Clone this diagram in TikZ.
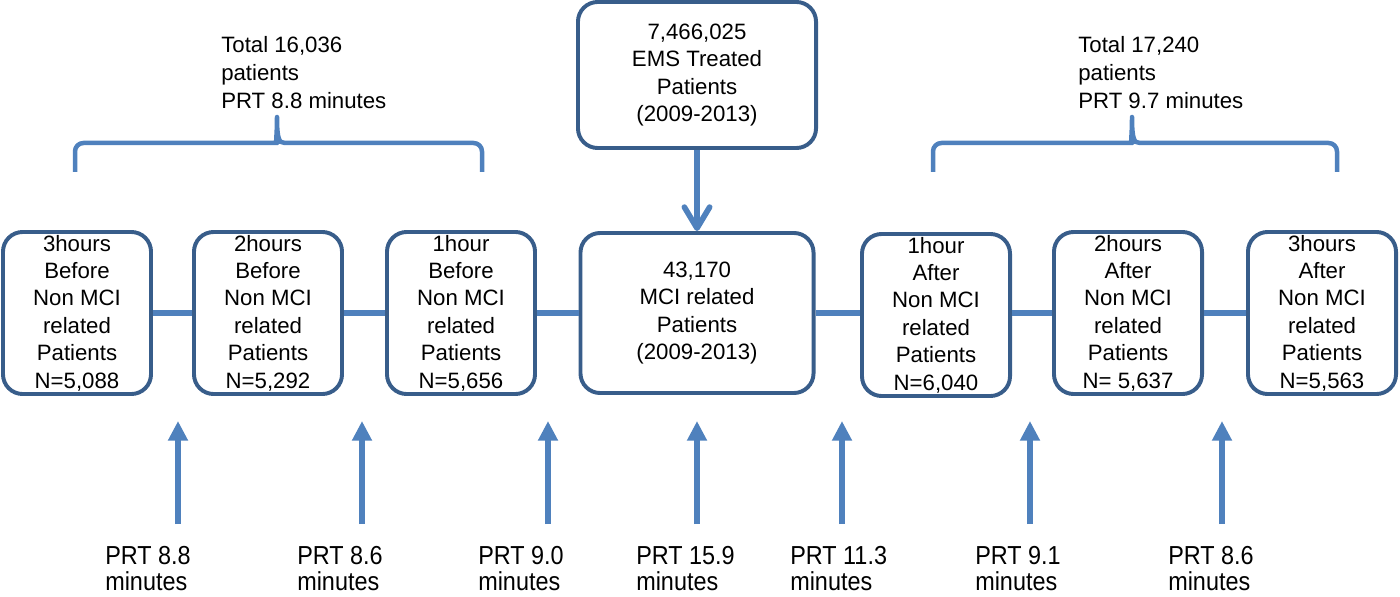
\documentclass[tikz,border=0pt]{standalone}
\usepackage{fontspec}
\setmainfont{Liberation Sans}
\newfontfamily\narrowfont[FakeStretch=0.9]{Liberation Sans}
\usetikzlibrary{arrows.meta}
\definecolor{boxblue}{RGB}{56,93,138}
\definecolor{lineblue}{RGB}{79,129,189}
\begin{document}
\begin{tikzpicture}[x=0.025cm,y=-0.025cm,
	box/.style={draw=boxblue, line width=2.8pt, rounded corners=14pt, fill=white, align=center, inner sep=0pt, minimum width=3.7cm, minimum height=4.05cm, font=\fontsize{15.8}{19.5}\selectfont},
	link/.style={draw=lineblue, line width=4pt},
	down/.style={draw=lineblue, line width=4pt, -{Straight Barb[round, length=15pt, width=18pt]}},
	up/.style={draw=lineblue, line width=3.6pt, -{Triangle[length=14pt, width=13.5pt]}},
	prt/.style={anchor=north west, align=left, inner sep=0pt, font=\narrowfont\fontsize{18.5}{18.5}\selectfont},
	total/.style={anchor=north west, align=left, inner sep=0pt, font=\fontsize{15.8}{19.9}\selectfont},
	brace/.style={draw=lineblue, line width=3.2pt, line join=round}]
	\useasboundingbox (0,0) rectangle (1400,597);
	% boxes
	\node (ems) at ( 697,  75)	[box, minimum width=5.95cm, minimum height=3.65cm]	{7,466,025\\EMS Treated\\Patients\\(2009-2013)};
	\node (b3)  at (  77, 313)	[box]	{3hours\\Before\\Non MCI\\related\\Patients\\N=5,088};
	\node (b2)  at ( 268, 313)	[box]	{2hours\\Before\\Non MCI\\related\\Patients\\N=5,292};
	\node (b1)  at ( 461, 313)	[box]	{1hour\\Before\\Non MCI\\related\\Patients\\N=5,656};
	\node (mci) at ( 697, 313)	[box, minimum width=5.825cm, minimum height=4cm]	{43,170\\MCI related\\Patients\\(2009-2013)};
	\node (a1)  at ( 936, 315)	[box]	{1hour\\After\\Non MCI\\related\\Patients\\N=6,040};
	\node (a2)  at (1128, 313)	[box]	{2hours\\After\\Non MCI\\related\\Patients\\N= 5,637};
	\node (a3)  at (1322, 313)	[box]	{3hours\\After\\Non MCI\\related\\Patients\\N=5,563};
	\draw[link] (b3.east) -- (b2.west);
	\draw[link] (b2.east) -- (b1.west);
	\draw[link] (b1.east) -- (mci.west);
	\draw[link] (mci.east) -- (mci.east -| a1.west);
	\draw[link] (a1.east |- a2.west) -- (a2.west);
	\draw[link] (a2.east) -- (a3.west);
	\draw[down] (ems) -- (mci);
	% totals and braces
	\node (tb) at ( 221, 36)	[total]	{Total 16,036\\patients\\PRT 8.8 minutes};
	\node (ta) at (1078, 36)	[total]	{Total 17,240\\patients\\PRT 9.7 minutes};
	\draw[brace, rounded corners=6pt] (75,172) -- (75,143) -- (269,143) [sharp corners] .. controls (275,143) and (277,139) .. (277,117) .. controls (277,139) and (279,143) .. (285,143) [rounded corners=6pt] -- (482,143) -- (482,172);
	\draw[brace, rounded corners=6pt] (933,172) -- (933,143) -- (1124,143) [sharp corners] .. controls (1130,143) and (1132,139) .. (1132,117) .. controls (1132,139) and (1134,143) .. (1140,143) [rounded corners=6pt] -- (1337,143) -- (1337,172);
	% PRT arrows
	\coordinate (s1) at ( 178, 524);	\coordinate (t1) at ( 178, 421);
	\coordinate (s2) at ( 362, 524);	\coordinate (t2) at ( 362, 421);
	\coordinate (s3) at ( 548, 524);	\coordinate (t3) at ( 548, 421);
	\coordinate (s4) at ( 697, 524);	\coordinate (t4) at ( 697, 421);
	\coordinate (s5) at ( 842, 524);	\coordinate (t5) at ( 842, 421);
	\coordinate (s6) at (1030, 524);	\coordinate (t6) at (1030, 421);
	\coordinate (s7) at (1222, 524);	\coordinate (t7) at (1222, 421);
	\draw[up] (s1) -- (t1);
	\draw[up] (s2) -- (t2);
	\draw[up] (s3) -- (t3);
	\draw[up] (s4) -- (t4);
	\draw[up] (s5) -- (t5);
	\draw[up] (s6) -- (t6);
	\draw[up] (s7) -- (t7);
	\node (l1) at ( 105, 546)	[prt]	{PRT 8.8\\minutes};
	\node (l2) at ( 297, 546)	[prt]	{PRT 8.6\\minutes};
	\node (l3) at ( 478, 546)	[prt]	{PRT 9.0\\minutes};
	\node (l4) at ( 636, 546)	[prt]	{PRT 15.9\\minutes};
	\node (l5) at ( 790, 546)	[prt]	{PRT 11.3\\minutes};
	\node (l6) at ( 975, 546)	[prt]	{PRT 9.1\\minutes};
	\node (l7) at (1168, 546)	[prt]	{PRT 8.6\\minutes};
\end{tikzpicture}
\end{document}
